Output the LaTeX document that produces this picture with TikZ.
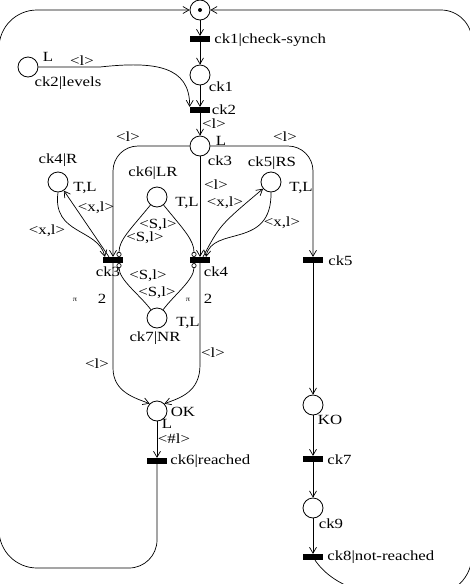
\documentclass[tikz,border=0pt]{standalone}
\usepackage{fontspec}
\setmainfont{Liberation Serif}[FakeStretch=1.2]
\usetikzlibrary{arrows.meta,calc}
\begin{document}
\begin{tikzpicture}[x=1pt,y=-1pt,line width=0.7pt,
  >={Straight Barb[length=6pt,width=7pt]},
  place/.style={circle,draw,minimum size=20pt,inner sep=0pt,line width=0.8pt},
  trans/.style={rectangle,fill=black,minimum width=20pt,minimum height=5.5pt,inner sep=0pt},
  lbl/.style={inner sep=0pt,font=\fontsize{14}{16}\selectfont},
  pilbl/.style={inner sep=0pt,font=\fontsize{7}{8}\selectfont},
  circtip/.style={-{Circle[open,length=5pt]}},
  ]
\useasboundingbox (0,0) rectangle (470,584);
\clip (0,0) rectangle (470,584);
% places and transitions
\node[place] (P0) at (200,10) {};
\fill (P0.center) circle (2);
\node[trans] (t1) at (200,39) {};
\node[place] (p1) at (200,75) {};
\node[place] (p2) at (28,67) {};
\node[trans] (t2) at (200,110) {};
\node[place] (p3) at (200,146) {};
\node[place] (p4) at (58,182) {};
\node[place] (p6) at (157,197) {};
\node[place] (p5) at (271,182) {};
\node[trans] (t3) at (113,260) {};
\node[trans] (t4) at (200,260) {};
\node[trans] (t5) at (313,260) {};
\node[place] (p7) at (157,318) {};
\node[place] (pok) at (157,411) {};
\node[trans] (t6) at (157,461) {};
\node[place] (pko) at (313,405) {};
\node[trans] (t7) at (313,459) {};
\node[place] (p9) at (313,508) {};
\node[trans] (t8) at (313,557) {};
% arcs
\draw[->] (P0) -- (t1);
\draw[->] (t1) -- (p1);
\draw[->] (p1) -- (t2);
\draw[->] (p2.east) -- (100,67) .. controls (155,61) and (190,66) .. (t2.north west);
\draw[->] (t2) -- (p3);
\draw[->,rounded corners=25pt] (p3.west) -| (t3.north);
\draw[->,rounded corners=25pt] (p3.east) -| (t5.north);
\draw[->] (p3) -- (t4);
\draw[->] ($(t3.north)+(-4,0)$) -- (p4);
\draw[->] (p4.south) .. controls (52,235) and (98,228) .. ($(t3.north)+(-8,0)$);
\draw[circtip] (p6) .. controls (130,230) and (119,240) .. ($(t3.north)+(6,0)$);
\draw[circtip] (p6) .. controls (184,230) and (194,240) .. ($(t4.north)+(-6,0)$);
\draw[->] ($(t4.north)+(3,0)$) .. controls (220,225) .. (p5);
\draw[->] (p5.south) .. controls (272,250) and (212,225) .. ($(t4.north)+(6,0)$);
\draw[circtip] (p7) .. controls (140,295) and (119,280) .. ($(t3.south)+(6,0)$);
\draw[circtip] (p7) .. controls (174,295) and (194,280) .. ($(t4.south)+(-6,0)$);
\draw[->] (t3.south) -- (113,368) .. controls (113,392) and (135,398) .. (pok.135);
\draw[->] (t4.south) -- (200,365) .. controls (200,392) and (180,398) .. (pok.45);
\draw[->] (pok) -- (t6);
\draw[->] (t6.south) -- (157,540) .. controls (157,555.5) and (144.5,568) .. (129,568)
  -- (37,568) .. controls (16,568) and (-1,551) .. (-1,530)
  -- (-1,48) .. controls (-1,27) and (16,10) .. (37,10) -- (P0.west);
\draw[->] (t5) -- (pko);
\draw[->] (pko) -- (t7);
\draw[->] (t7) -- (p9);
\draw[->] (p9) -- (t8);
\draw[->] ($(t8.south)+(2,0)$) .. controls (325,575) and (345,590) .. (380,595)
  -- (432,595) .. controls (454,595) and (472,577) .. (472,555)
  -- (472,41) .. controls (472,24) and (458,10) .. (441,10) -- (P0.east);
% labels
\node[lbl,anchor=west] (l1) at (214,40) {ck1|check-synch};
\node[lbl] (l2) at (48,57) {L};
\node[lbl] (l3) at (82,61) {<l>};
\node[lbl] (l4) at (68,83) {ck2|levels};
\node[lbl] (l5) at (221,87) {ck1};
\node[lbl] (l6) at (224,110) {ck2};
\node[lbl] (l7) at (214,124) {<l>};
\node[lbl] (l8) at (221,141) {L};
\node[lbl] (l9) at (128,137) {<l>};
\node[lbl] (l10) at (285,137) {<l>};
\node[lbl] (l11) at (220,161) {ck3};
\node[lbl] (l12) at (58,160) {ck4|R};
\node[lbl] (l13) at (85,188) {T,L};
\node[lbl] (l14) at (96,208) {<x,l>};
\node[lbl] (l15) at (47,231) {<x,l>};
\node[lbl] (l16) at (153,173) {ck6|LR};
\node[lbl] (l17) at (187,203) {T,L};
\node[lbl] (l18) at (216,185) {<l>};
\node[lbl] (l19) at (225,203) {<x,l>};
\node[lbl] (l20) at (272,163) {ck5|RS};
\node[lbl] (l21) at (301,188) {T,L};
\node[lbl] (l22) at (282,223) {<x,l>};
\node[lbl] (l23) at (158,225) {<S,l>};
\node[lbl] (l24) at (145,238) {<S,l>};
\node[lbl] (l25) at (108,272) {ck3};
\node[lbl] (l26) at (216,272) {ck4};
\node[lbl,anchor=west] (l27) at (328,261) {ck5};
\node[lbl] (l28) at (148,276) {<S,l>};
\node[lbl] (l29) at (157,293) {<S,l>};
\node[pilbl] (l30) at (75,300) {π};
\node[lbl] (l31) at (102,299) {2};
\node[pilbl] (l32) at (188,300) {π};
\node[lbl] (l33) at (208,299) {2};
\node[lbl] (l34) at (155,338) {ck7|NR};
\node[lbl] (l35) at (188,323) {T,L};
\node[lbl] (l36) at (97,364) {<l>};
\node[lbl] (l37) at (213,353) {<l>};
\node[lbl] (l38) at (183,412) {OK};
\node[lbl] (l39) at (167,424) {L};
\node[lbl] (l40) at (174,439) {<\#l>};
\node[lbl,anchor=west] (l41) at (170,461) {ck6|reached};
\node[lbl] (l42) at (330,420) {KO};
\node[lbl,anchor=west] (l43) at (327,460) {ck7};
\node[lbl] (l44) at (331,524) {ck9};
\node[lbl,anchor=west] (l45) at (327,557) {ck8|not-reached};
\end{tikzpicture}
\end{document}
